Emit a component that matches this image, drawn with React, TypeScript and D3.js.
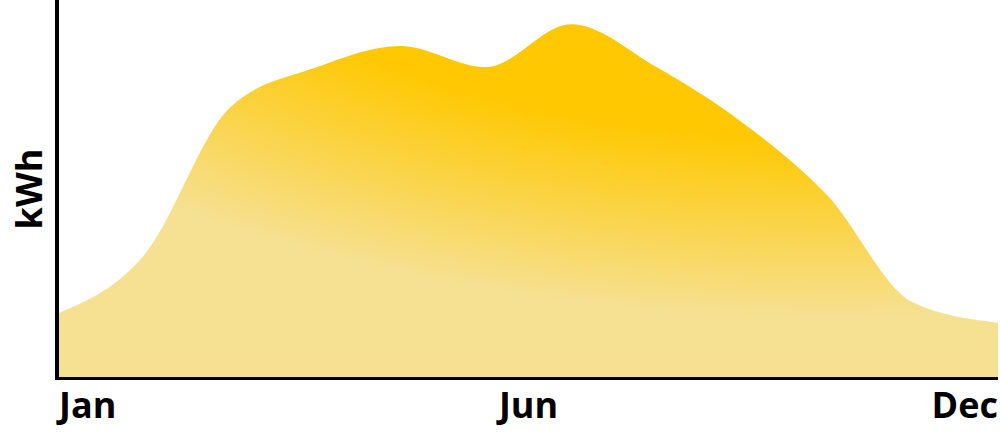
import * as d3 from 'd3';

const WIDTH = 1000;
const HEIGHT = 434;
const MARGIN = { top: 0, right: 2, bottom: 57, left: 59 };

// monthly production
const months = ['Jan', 'Feb', 'Mar', 'Apr', 'May', 'Jun', 'Jul', 'Aug', 'Sep', 'Oct', 'Nov', 'Dec'];
const kwh = [85, 162, 357, 410, 439, 411, 468, 411, 338, 241, 99, 72];
const tickLabels = ['Jan', 'Jun', 'Dec'];

const FONT = '"Open Sans", "Noto Sans", sans-serif';

// elliptical glow, centre sits above the plot towards the right
const GLOW = { cx: 774, cy: -230, r: 546 };

const App = () => {
    const boundsWidth = WIDTH - MARGIN.left - MARGIN.right;
    const boundsHeight = HEIGHT - MARGIN.top - MARGIN.bottom;

    const xScale = d3.scalePoint().domain(months).range([0, boundsWidth]);
    const yScale = d3.scaleLinear().domain([0, 500]).range([boundsHeight, 0]);
    const labelScale = d3.scalePoint().domain(tickLabels).range([0, boundsWidth]);

    const area = d3.area<number>()
        .x((_, i) => xScale(months[i]))
        .y0(boundsHeight)
        .y1((d) => yScale(d))
        .curve(d3.curveMonotoneX);

    const anchors = ['start', 'middle', 'end'];

    return (
        <svg width={WIDTH} height={HEIGHT} style={{ position: 'absolute', left: 0, top: 0 }}>
            <defs>
                <radialGradient id="sun" gradientUnits="userSpaceOnUse" cx={GLOW.cx} cy={GLOW.cy} r={GLOW.r}
                    gradientTransform={`translate(${GLOW.cx},${GLOW.cy}) scale(2,1) translate(${-GLOW.cx},${-GLOW.cy})`}>
                    <stop offset="0" stopColor="#FFC800" />
                    <stop offset="0.67" stopColor="#FFC800" />
                    <stop offset="1" stopColor="#F6E091" />
                </radialGradient>
            </defs>
            <g transform={`translate(${MARGIN.left}, ${MARGIN.top})`}>
                <path d={area(kwh) ?? ''} fill="url(#sun)" />
                {/* axes */}
                <line x1={-2} x2={-2} y1={0} y2={boundsHeight + 3} stroke="#000" strokeWidth={4} />
                <line x1={-4} x2={boundsWidth} y1={boundsHeight + 1.5} y2={boundsHeight + 1.5} stroke="#000" strokeWidth={3} />
                {tickLabels.map((t, i) => (
                    <text key={t} x={labelScale(t)} y={boundsHeight + 41} textAnchor={anchors[i]}
                        fontFamily={FONT} fontWeight={700} fontSize={36} fill="#000">{t}</text>
                ))}
                <text transform={`translate(-17, 189) rotate(-90)`} textAnchor="middle"
                    fontFamily={FONT} fontWeight={700} fontSize={36} fill="#000">kWh</text>
            </g>
        </svg>
    );
};

export default App;
